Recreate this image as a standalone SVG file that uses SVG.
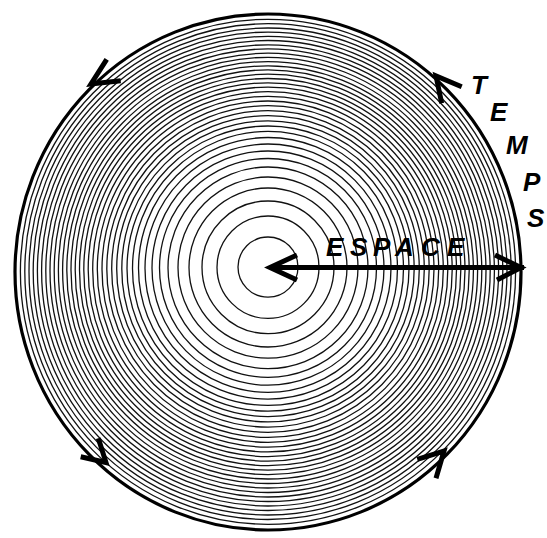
<svg xmlns="http://www.w3.org/2000/svg" width="547" height="538" viewBox="0 0 547 538">
<style>
.ring{fill:none;stroke:#111;stroke-width:1.3}
.outer{fill:none;stroke:#000;stroke-width:3.2}
.arr{fill:none;stroke:#000;stroke-width:5;stroke-linecap:butt;stroke-linejoin:miter}
.lbl{font-family:"Liberation Sans",Arial,sans-serif;font-weight:bold;font-style:italic;font-size:26px;fill:#000}
</style>
<rect width="547" height="538" fill="#fff"/>
<g id="spiral">
<ellipse class="ring" cx="268" cy="267.1" rx="30" ry="30.1"/>
<ellipse class="ring" cx="268" cy="267.2" rx="51" ry="51.2"/>
<ellipse class="ring" cx="268" cy="267.3" rx="66" ry="66.3"/>
<ellipse class="ring" cx="268" cy="267.5" rx="79" ry="79.5"/>
<ellipse class="ring" cx="268" cy="267.6" rx="90" ry="90.6"/>
<ellipse class="ring" cx="268" cy="267.8" rx="100" ry="100.8"/>
<ellipse class="ring" cx="268" cy="267.9" rx="108.5" ry="109.4"/>
<ellipse class="ring" cx="268" cy="268.1" rx="116" ry="117.1"/>
<ellipse class="ring" cx="268" cy="268.2" rx="123" ry="124.2"/>
<ellipse class="ring" cx="268" cy="268.3" rx="129.5" ry="130.8"/>
<ellipse class="ring" cx="268" cy="268.4" rx="135.5" ry="137"/>
<ellipse class="ring" cx="268" cy="268.6" rx="141" ry="142.6"/>
<ellipse class="ring" cx="268" cy="268.7" rx="146.2" ry="147.9"/>
<ellipse class="ring" cx="268" cy="268.8" rx="151.3" ry="153.1"/>
<ellipse class="ring" cx="268" cy="268.9" rx="156.3" ry="158.2"/>
<ellipse class="ring" cx="268" cy="269" rx="161.2" ry="163.3"/>
<ellipse class="ring" cx="268" cy="269.2" rx="166" ry="168.2"/>
<ellipse class="ring" cx="268" cy="269.3" rx="170.7" ry="173"/>
<ellipse class="ring" cx="268" cy="269.4" rx="175.3" ry="177.7"/>
<ellipse class="ring" cx="268" cy="269.5" rx="179.8" ry="182.4"/>
<ellipse class="ring" cx="268" cy="269.7" rx="184.2" ry="186.9"/>
<ellipse class="ring" cx="268" cy="269.8" rx="188.5" ry="191.3"/>
<ellipse class="ring" cx="268" cy="269.9" rx="192.8" ry="195.7"/>
<ellipse class="ring" cx="268" cy="270" rx="197" ry="200.1"/>
<ellipse class="ring" cx="268" cy="270.2" rx="201.2" ry="204.4"/>
<ellipse class="ring" cx="268" cy="270.3" rx="205.4" ry="208.7"/>
<ellipse class="ring" cx="268" cy="270.4" rx="209.6" ry="213.1"/>
<ellipse class="ring" cx="268" cy="270.6" rx="213.8" ry="217.4"/>
<ellipse class="ring" cx="268" cy="270.7" rx="218" ry="221.8"/>
<ellipse class="ring" cx="268" cy="270.9" rx="222.2" ry="226.1"/>
<ellipse class="ring" cx="268" cy="271" rx="226.4" ry="230.5"/>
<ellipse class="ring" cx="268" cy="271.2" rx="230.6" ry="234.8"/>
<ellipse class="ring" cx="268" cy="271.3" rx="234.8" ry="239.2"/>
<ellipse class="ring" cx="268" cy="271.5" rx="239" ry="243.5"/>
<ellipse class="ring" cx="268" cy="271.6" rx="243.2" ry="247.9"/>
<ellipse class="ring" cx="268" cy="271.8" rx="247.6" ry="252.5"/>
<ellipse class="outer" cx="268" cy="272" rx="253" ry="258"/>
</g>
<g id="connectors">
<line class="arr" x1="270" y1="267.5" x2="524" y2="267.5" stroke-width="4.5"/>
<polyline class="arr" points="297,255 270,267.5 297,280"/>
<polyline class="arr" points="495,255 521,267.5 497,280"/>
<polyline class="arr" points="106.7,59.3 91,84 120.7,80.7"/>
<polyline class="arr" points="441.7,103.3 436,76 461.7,86.7"/>
<polyline class="arr" points="80.7,456.7 106,462.5 98.3,438.3"/>
<polyline class="arr" points="417.3,459.3 444,451 436,478.3"/>
</g>
<g id="espace">
<text class="lbl" x="326 350 373 395 421 447" y="256">ESPACE</text>
</g>
<g id="temps">
<text class="lbl" x="471" y="93.5">T</text>
<text class="lbl" x="490" y="120.5">E</text>
<text class="lbl" x="506" y="153.5">M</text>
<text class="lbl" x="523" y="190.5">P</text>
<text class="lbl" x="527" y="227">S</text>
</g>
</svg>
